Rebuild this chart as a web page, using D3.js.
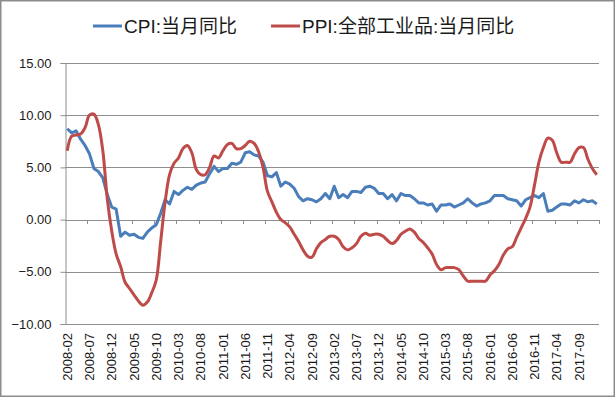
<!DOCTYPE html>
<html>
<head>
<meta charset="utf-8">
<script src="https://cdn.jsdelivr.net/npm/d3@7"></script>
<style>
  body { margin: 0; background: #fff; }
  svg { display: block; }
  .tick-label { font-family: "Liberation Sans", Arial, sans-serif; font-size: 13px; fill: #1a1a1a; }
  .legend-text { font-family: "Liberation Sans", "Noto Sans CJK SC", sans-serif; font-size: 19px; fill: #1a1a1a; }
</style>
</head>
<body>
<div id="chart"></div>
<script>
// months 2008-02 .. 2018-01
const months = d3.timeMonth.range(new Date(2008, 1, 1), new Date(2018, 1, 1)).map(d3.timeFormat("%Y-%m"));

const cpi = [
  8.7, 8.3, 8.5, 7.7, 7.1, 6.3, 4.9, 4.6, 4.0, 2.4, 1.2,
  1.0, -1.6, -1.2, -1.5, -1.4, -1.7, -1.8, -1.2, -0.8, -0.5, 0.6, 1.9,
  1.5, 2.7, 2.4, 2.8, 3.1, 2.9, 3.3, 3.5, 3.6, 4.4, 5.1, 4.6,
  4.9, 4.9, 5.4, 5.3, 5.5, 6.4, 6.5, 6.2, 6.1, 5.5, 4.2, 4.1,
  4.5, 3.2, 3.6, 3.4, 3.0, 2.2, 1.8, 2.0, 1.9, 1.7, 2.0, 2.5,
  2.0, 3.2, 2.1, 2.4, 2.1, 2.7, 2.7, 2.6, 3.1, 3.2, 3.0, 2.5,
  2.5, 2.0, 2.4, 1.8, 2.5, 2.3, 2.3, 2.0, 1.6, 1.6, 1.4, 1.5,
  0.8, 1.4, 1.4, 1.5, 1.2, 1.4, 1.6, 2.0, 1.6, 1.3, 1.5, 1.6,
  1.8, 2.3, 2.3, 2.3, 2.0, 1.9, 1.8, 1.3, 1.9, 2.1, 2.3, 2.1,
  2.5, 0.8, 0.9, 1.2, 1.5, 1.5, 1.4, 1.8, 1.6, 1.9, 1.7, 1.8,
  1.5
];

const ppi = [
  6.6, 8.0, 8.1, 8.2, 8.8, 10.0, 10.1, 9.1, 6.6, 2.0, -1.1,
  -3.3, -4.5, -6.0, -6.6, -7.2, -7.8, -8.2, -7.9, -7.0, -5.8, -2.1, 1.7,
  4.3, 5.4, 5.9, 6.8, 7.1, 6.4, 4.8, 4.3, 4.3, 5.0, 6.1, 5.9,
  6.6, 7.2, 7.3, 6.8, 6.8, 7.1, 7.5, 7.3, 6.5, 5.0, 2.7, 1.7,
  0.7, 0.0, -0.3, -0.7, -1.4, -2.1, -2.9, -3.5, -3.6, -2.8, -2.2, -1.9,
  -1.6, -1.6, -1.9, -2.6, -2.9, -2.7, -2.3, -1.6, -1.3, -1.5, -1.4, -1.4,
  -1.6, -2.0, -2.3, -2.0, -1.4, -1.1, -0.9, -1.2, -1.8, -2.2, -2.7, -3.3,
  -4.3, -4.8, -4.6, -4.6, -4.6, -4.8, -5.4, -5.9, -5.9, -5.9, -5.9, -5.9,
  -5.3, -4.9, -4.3, -3.4, -2.8, -2.6, -1.7, -0.8, 0.1, 1.2, 3.3, 5.5,
  6.9, 7.8, 7.6, 6.4, 5.5, 5.5, 5.5, 6.3, 6.9, 6.9, 5.8, 4.9,
  4.3
];

const yTicks = [-10, -5, 0, 5, 10, 15];
const seriesNames = ["CPI:当月同比", "PPI:全部工业品:当月同比"];
const seriesColors = ["#4a7ebb", "#be4b48"];

const W = 615, H = 397;
const plot = { left: 65, right: 599, top: 63, bottom: 324 };

const svg = d3.select("#chart").append("svg").attr("width", W).attr("height", H);

svg.append("rect")
  .attr("x", 0.75).attr("y", 0.75)
  .attr("width", W - 1.5).attr("height", H - 1.5)
  .attr("fill", "#fff").attr("stroke", "#8c8c8c").attr("stroke-width", 1.5);

let x = d3.scaleBand().domain(months).range([plot.left, plot.right]);
let y = d3.scaleLinear().domain([-10, 15]).range([plot.bottom, plot.top]);

// gridlines
svg.append("g").selectAll("line")
  .data(yTicks)
  .join("line")
  .attr("x1", plot.left).attr("x2", plot.right)
  .attr("y1", d => Math.round(y(d)) + 0.5).attr("y2", d => Math.round(y(d)) + 0.5)
  .attr("stroke", "#8e8e8e").attr("stroke-width", 1);

// y axis
let yAxis = svg.append("g")
  .attr("transform", `translate(${plot.left + 0.5},0)`)
  .call(d3.axisLeft(y).tickValues(yTicks).tickFormat(d3.format(".2f")).tickSize(5).tickPadding(9));
yAxis.select(".domain").attr("stroke", "#8e8e8e");
yAxis.selectAll(".tick line").attr("stroke", "#8e8e8e");
yAxis.selectAll(".tick text").attr("class", "tick-label").attr("font-size", null).attr("font-family", null);

// category tick marks on the zero line, every 5 months
let tickMonths = months.filter((m, i) => i % 5 === 0 && i > 0);
let tickXs = tickMonths.map(m => x(m)).concat([x.range()[1]]);
svg.append("g").selectAll("line")
  .data(tickXs)
  .join("line")
  .attr("x1", d => Math.round(d) + 0.5).attr("x2", d => Math.round(d) + 0.5)
  .attr("y1", Math.round(y(0))).attr("y2", Math.round(y(0)) + 4)
  .attr("stroke", "#8e8e8e");

// category labels at the bottom
let labelMonths = months.filter((m, i) => i % 5 === 0);
svg.append("g").selectAll("text")
  .data(labelMonths)
  .join("text")
  .attr("class", "tick-label")
  .attr("transform", d => `translate(${x(d) + x.bandwidth() / 2},${plot.bottom + 9}) rotate(-90)`)
  .attr("text-anchor", "end")
  .attr("dy", "0.36em")
  .text(d => d);

// lines
let cx = (d, i) => x(months[i]) + x.bandwidth() / 2;
svg.append("path")
  .datum(cpi)
  .attr("fill", "none")
  .attr("stroke", seriesColors[0])
  .attr("stroke-width", 3)
  .attr("stroke-linejoin", "round")
  .attr("d", d3.line().x(cx).y(d => y(d)));

svg.append("path")
  .datum(ppi)
  .attr("fill", "none")
  .attr("stroke", seriesColors[1])
  .attr("stroke-width", 3)
  .attr("stroke-linejoin", "round")
  .attr("d", d3.line().x(cx).y(d => y(d)).curve(d3.curveCatmullRom));

// legend
let legend = svg.append("g");
let legendPos = [{ x1: 93, x2: 122, tx: 124 }, { x1: 271, x2: 300, tx: 302 }];
legendPos.forEach((p, i) => {
  legend.append("line")
    .attr("x1", p.x1).attr("x2", p.x2)
    .attr("y1", 26).attr("y2", 26)
    .attr("stroke", seriesColors[i]).attr("stroke-width", 3);
  legend.append("text")
    .attr("class", "legend-text")
    .attr("x", p.tx).attr("y", 26)
    .attr("dy", "0.35em")
    .text(seriesNames[i]);
});
</script>
</body>
</html>
